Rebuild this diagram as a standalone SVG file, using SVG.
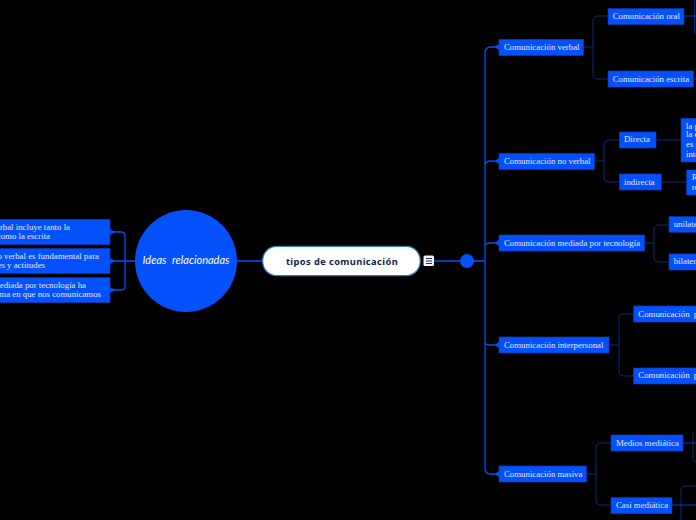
<svg xmlns="http://www.w3.org/2000/svg" width="696" height="520" viewBox="0 0 696 520">
<style>
.n{fill:#0450fb;stroke:#0a3fc0;stroke-width:.6}
.t{font-family:"Liberation Serif",serif;font-size:8.8px;fill:#e2e9ff}
.e{text-anchor:end}
.m{fill:none;stroke:#0450fb;stroke-width:1.3}
.d{fill:none;stroke:#0a2a80;stroke-width:1}
.b{fill:none;stroke:#0a3fc0;stroke-width:1}
</style>
<rect width="696" height="520" fill="#000"/>
<g id="connectors">
<path class="m" d="M110 261H135M237 261H263M434 261H485"/>
<path class="m" d="M485 53V468M500 47H491Q485 47 485 53M495 161H491Q485 161 485 165M495 243H491Q485 243 485 246M495 345H491Q485 345 485 342M495 474H491Q485 474 485 468"/>
<path class="m" d="M110 232H121Q125 232 125 236V286Q125 290 121 290H110"/>
<path fill="#0450fb" d="M499 44V50L494.500 47ZM499 158V164L494.500 161ZM499 240V246L494.500 243ZM499 342V348L494.500 345ZM499 471V477L494.500 474ZM110 229V235L115 232ZM110 258V264L115 261ZM110 287V293L115 290Z"/>
<path class="d" d="M584 47H593M593 47V21Q593 16 598 16H608M593 47V74Q593 79 598 79H608M694.500 0V29Q694.500 34 696 34"/>
<path class="b" d="M684 16H696M693 79H696"/>
<path class="d" d="M595 161H604M604 161V145Q604 140 609 140H619M604 161V177Q604 182 609 182H619M656 140H681M662 182H687"/>
<path class="d" d="M645 243H654M654 243V230Q654 225 659 225H669M654 243V257Q654 262 659 262H669"/>
<path class="d" d="M609 345H619M619 345V319Q619 314 624 314H634M619 345V371Q619 376 624 376H634"/>
<path class="d" d="M586 474H596M596 474V448Q596 443 601 443H611M596 474V500Q596 505 601 505H611M693 433V457Q693 462 696 462M681 520V491Q681 486 686 486H696"/>
<path class="b" d="M683 443H696M672 505H696"/>
</g>
<g id="root"><rect x="262.700" y="246.300" width="157.500" height="29.300" rx="14" fill="#fff" stroke="#2f7fb5" stroke-width="1.200"/><text x="342" y="265" text-anchor="middle" font-family="'Noto Sans',sans-serif" font-weight="700" font-size="9.300" letter-spacing=".4" fill="#12234f">tipos de comunicación</text></g>
<g id="toggle"><rect x="423.500" y="255.500" width="10.500" height="10.500" rx="1.500" fill="#f5f5f5"/><path d="M426 258.500H432M426 261H432M426 263.500H432" stroke="#23335f" stroke-width="1"/></g>
<g id="dot"><circle cx="467" cy="261" r="7" fill="#0450fb"/></g>
<g id="ideas"><circle cx="186" cy="261" r="51" fill="#0450fb"/><text x="186" y="264" text-anchor="middle" font-family="Lato,sans-serif" font-style="italic" font-size="11" word-spacing="3" fill="#fff">Ideas relacionadas</text></g>
<g id="left1"><rect class="n" x="-60" y="219.500" width="170" height="25"/><text class="t e" x="70" y="230">verbal incluye tanto la</text><text class="t e" x="50" y="239">como la escrita</text></g>
<g id="left2"><rect class="n" x="-60" y="248.500" width="170" height="25"/><text class="t e" x="99" y="259">o verbal es fundamental para</text><text class="t e" x="45" y="268">es y actitudes</text></g>
<g id="left3"><rect class="n" x="-60" y="277.700" width="170" height="25"/><text class="t e" x="86" y="288">mediada por tecnología ha</text><text class="t e" x="101" y="297">ma en que nos comunicamos</text></g>
<g id="n1"><rect class="n" x="499" y="39.500" width="84.500" height="16"/><text class="t" x="504" y="50">Comunicación verbal</text></g>
<g id="n2"><rect class="n" x="499" y="153.500" width="95.500" height="16"/><text class="t" x="504" y="164">Comunicación no verbal</text></g>
<g id="n3"><rect class="n" x="499" y="235" width="145.500" height="16"/><text class="t" x="504" y="246">Comunicación mediada por tecnología</text></g>
<g id="n4"><rect class="n" x="499" y="337" width="110" height="16"/><text class="t" x="504" y="348">Comunicación interpersonal</text></g>
<g id="n5"><rect class="n" x="499" y="466" width="87.500" height="16"/><text class="t" x="504" y="477">Comunicación masiva</text></g>
<g id="n11"><rect class="n" x="608" y="8.700" width="76" height="15.800"/><text class="t" x="612.700" y="19.300">Comunicación oral</text></g>
<g id="n12"><rect class="n" x="608" y="71" width="85.500" height="16"/><text class="t" x="612.700" y="81.700">Comunicación escrita</text></g>
<g id="n21"><rect class="n" x="619.300" y="132" width="36.700" height="16"/><text class="t" x="624" y="142.300">Directa</text></g>
<g id="n22"><rect class="n" x="619.300" y="174" width="42" height="16"/><text class="t" x="624" y="185.300">indirecta</text></g>
<g id="n211"><rect class="n" x="681" y="118.300" width="30" height="43.700"/><text class="t" x="686" y="128.700">la p</text><text class="t" x="686" y="137.300">la c</text><text class="t" x="686" y="147.300">es s</text><text class="t" x="686" y="156.700">inte</text></g>
<g id="n221"><rect class="n" x="686.700" y="170" width="30" height="25"/><text class="t" x="691.700" y="180">R</text><text class="t" x="691.700" y="190">re</text></g>
<g id="n31"><rect class="n" x="669" y="216.700" width="40" height="15.500"/><text class="t" x="673.700" y="226.700">unilate</text></g>
<g id="n32"><rect class="n" x="669" y="254" width="40" height="16"/><text class="t" x="673.700" y="264.300">bilatera</text></g>
<g id="n41"><rect class="n" x="633.700" y="306" width="80" height="16"/><text class="t" x="638.300" y="316.700" word-spacing="2">Comunicación p</text></g>
<g id="n42"><rect class="n" x="633.700" y="368" width="80" height="16"/><text class="t" x="638.300" y="378.300" word-spacing="2">Comunicación p</text></g>
<g id="n51"><rect class="n" x="611" y="435" width="72" height="16"/><text class="t" x="616" y="445.700">Medios mediática</text></g>
<g id="n52"><rect class="n" x="611" y="497.700" width="61" height="16"/><text class="t" x="616" y="507.700">Casi mediática</text></g>
</svg>
